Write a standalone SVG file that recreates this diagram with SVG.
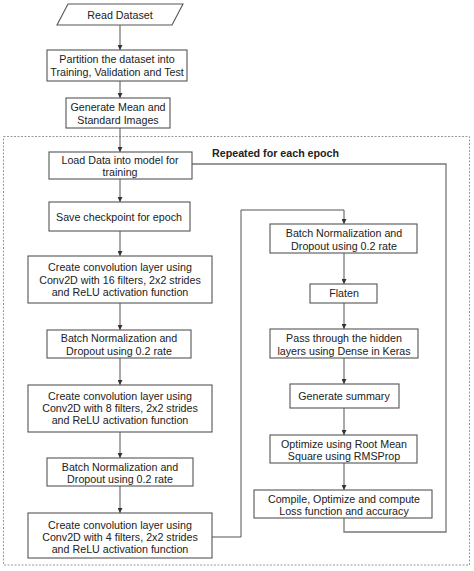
<svg xmlns="http://www.w3.org/2000/svg" width="474" height="571" viewBox="0 0 474 571">
<style>
.box{fill:#fff;stroke:#555;stroke-width:1.1}
.t{font-family:"Liberation Sans",Arial,sans-serif;font-size:10.7px;fill:#222;text-anchor:middle}
.b{font-weight:bold;text-anchor:start}
.c{fill:none;stroke:#555;stroke-width:1}
.loop{fill:none;stroke:#777;stroke-width:1.3}
</style>
<defs>
<marker id="ah" viewBox="0 0 6 6" refX="6" refY="3" markerWidth="5" markerHeight="5" orient="auto">
<path d="M0,0 L6,3 L0,6 z" fill="#333"/>
</marker>
</defs>
<rect width="474" height="571" fill="#fff"/>
<rect id="repeat" x="3.5" y="136.5" width="466" height="428.5" fill="none" stroke="#999" stroke-width="1" stroke-dasharray="2,1.5"/>
<text class="t b" x="212" y="157">Repeated for each epoch</text>
<g id="connectors">
<line class="c" x1="120" y1="25" x2="120" y2="50" marker-end="url(#ah)"/>
<line class="c" x1="120" y1="81" x2="120" y2="98" marker-end="url(#ah)"/>
<line class="c" x1="120" y1="128" x2="120" y2="152" marker-end="url(#ah)"/>
<line class="c" x1="120" y1="179" x2="120" y2="202" marker-end="url(#ah)"/>
<line class="c" x1="120" y1="231" x2="120" y2="256" marker-end="url(#ah)"/>
<line class="c" x1="120" y1="303" x2="120" y2="330" marker-end="url(#ah)"/>
<line class="c" x1="120" y1="358" x2="120" y2="385" marker-end="url(#ah)"/>
<line class="c" x1="120" y1="432" x2="120" y2="458" marker-end="url(#ah)"/>
<line class="c" x1="120" y1="486" x2="120" y2="513" marker-end="url(#ah)"/>
<polyline class="c" points="212,537 241,537 241,210 344,210 344,224" marker-end="url(#ah)"/>
<line class="c" x1="344" y1="253" x2="344" y2="284" marker-end="url(#ah)"/>
<line class="c" x1="344" y1="303" x2="344" y2="329" marker-end="url(#ah)"/>
<line class="c" x1="344" y1="358" x2="344" y2="384" marker-end="url(#ah)"/>
<line class="c" x1="344" y1="408" x2="344" y2="435" marker-end="url(#ah)"/>
<line class="c" x1="344" y1="463" x2="344" y2="490" marker-end="url(#ah)"/>
<polyline class="loop" points="344,518 344,532 446,532 446,164 192,164"/>
</g>
<g id="read">
<polygon class="box" points="68,4 183,4 172,25 57,25"/>
<text class="t" x="120" y="18.5">Read Dataset</text>
</g>
<g id="partition">
<rect class="box" x="47" y="50" width="140" height="31"/>
<text class="t" x="117" y="63">Partition the dataset into</text>
<text class="t" x="117" y="76">Training, Validation and Test</text>
</g>
<g id="generate">
<rect class="box" x="66" y="98" width="104" height="30"/>
<text class="t" x="118" y="111">Generate Mean and</text>
<text class="t" x="118" y="124">Standard Images</text>
</g>
<g id="load">
<rect class="box" x="49" y="152" width="143" height="27"/>
<text class="t" x="120" y="163.5">Load Data into model for</text>
<text class="t" x="120" y="176">training</text>
</g>
<g id="save">
<rect class="box" x="49" y="202" width="141" height="29"/>
<text class="t" x="119" y="220.5">Save checkpoint for epoch</text>
</g>
<g id="conv1">
<rect class="box" x="28" y="256" width="184" height="47"/>
<text class="t" x="120" y="271">Create convolution layer using</text>
<text class="t" x="120" y="283.5">Conv2D with 16 filters, 2x2 strides</text>
<text class="t" x="120" y="296">and ReLU activation function</text>
</g>
<g id="batch1">
<rect class="box" x="47" y="330" width="144" height="28"/>
<text class="t" x="119" y="341.5">Batch Normalization and</text>
<text class="t" x="119" y="355">Dropout using 0.2 rate</text>
</g>
<g id="conv2">
<rect class="box" x="28" y="385" width="184" height="47"/>
<text class="t" x="120" y="400">Create convolution layer using</text>
<text class="t" x="120" y="412">Conv2D with 8 filters, 2x2 strides</text>
<text class="t" x="120" y="424">and ReLU activation function</text>
</g>
<g id="batch2">
<rect class="box" x="47" y="458" width="146" height="28"/>
<text class="t" x="120" y="470.5">Batch Normalization and</text>
<text class="t" x="120" y="483">Dropout using 0.2 rate</text>
</g>
<g id="conv3">
<rect class="box" x="28" y="513" width="184" height="45"/>
<text class="t" x="120" y="528.5">Create convolution layer using</text>
<text class="t" x="120" y="540.5">Conv2D with 4 filters, 2x2 strides</text>
<text class="t" x="120" y="552.5">and ReLU activation function</text>
</g>
<g id="batchR">
<rect class="box" x="270" y="224" width="147" height="29"/>
<text class="t" x="344" y="236.5">Batch Normalization and</text>
<text class="t" x="344" y="249.5">Dropout using 0.2 rate</text>
</g>
<g id="flaten">
<rect class="box" x="310" y="284" width="67" height="19"/>
<text class="t" x="344" y="297">Flaten</text>
</g>
<g id="pass">
<rect class="box" x="270" y="329" width="148" height="29"/>
<text class="t" x="344" y="341.5">Pass through the hidden</text>
<text class="t" x="344" y="355">layers using Dense in Keras</text>
</g>
<g id="summary">
<rect class="box" x="290" y="384" width="109" height="24"/>
<text class="t" x="344" y="400">Generate summary</text>
</g>
<g id="optimize">
<rect class="box" x="270" y="435" width="147" height="28"/>
<text class="t" x="344" y="447.5">Optimize using Root Mean</text>
<text class="t" x="344" y="460">Square using RMSProp</text>
</g>
<g id="compile">
<rect class="box" x="254" y="490" width="178" height="28"/>
<text class="t" x="344" y="502.5">Compile, Optimize and compute</text>
<text class="t" x="344" y="514.5">Loss function and accuracy</text>
</g>
</svg>
